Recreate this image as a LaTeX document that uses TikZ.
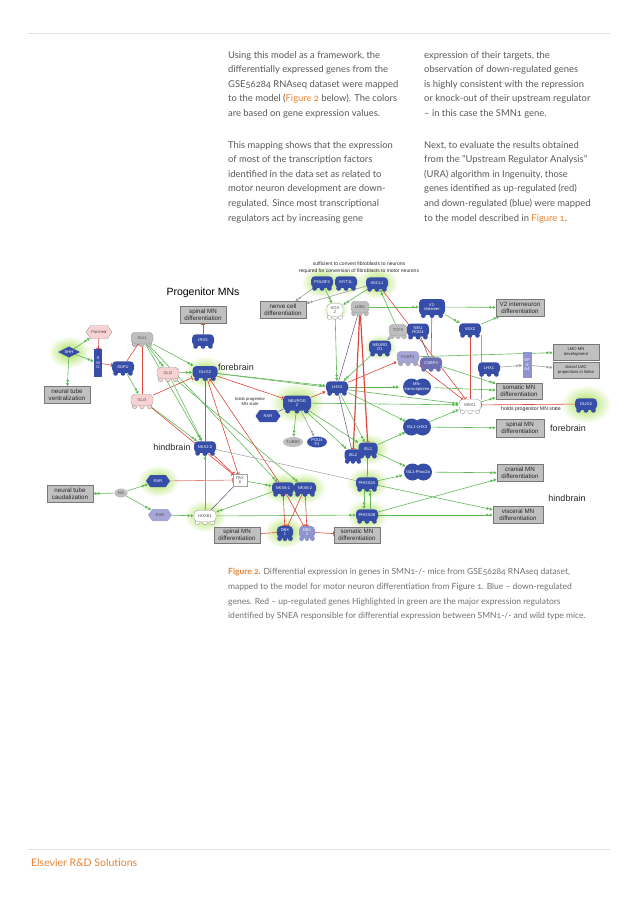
\documentclass[tikz,border=0pt]{standalone}
\usepackage{fontspec}
\setmainfont{Lato}[Numbers=OldStyle]
\newfontfamily\dfont{Liberation Sans}
\usetikzlibrary{arrows.meta,shapes.geometric,shapes.misc,shapes.symbols,decorations.markings,calc,fadings}
\definecolor{txt}{RGB}{88,88,88}
\definecolor{org}{RGB}{232,130,50}
\definecolor{nblue}{RGB}{55,78,168}
\definecolor{nlav}{RGB}{165,165,215}
\definecolor{npink}{RGB}{248,210,210}
\definecolor{ngray}{RGB}{190,190,190}
\definecolor{bfill}{RGB}{192,192,192}
\definecolor{bdraw}{RGB}{120,120,120}
\definecolor{cgreen}{RGB}{95,185,85}
\definecolor{cred}{RGB}{222,70,60}
\definecolor{cpurp}{RGB}{105,75,125}
\definecolor{cgrayl}{RGB}{160,160,160}
\definecolor{cglow}{RGB}{165,222,80}
\definecolor{rulec}{RGB}{222,222,222}
\definecolor{ncsrp}{RGB}{110,110,180}
\tikzfading[name=glowfade, inner color=transparent!0, outer color=transparent!100]
\pgfdeclarelayer{glow}\pgfdeclarelayer{edges}\pgfdeclarelayer{feet}
\pgfsetlayers{glow,edges,feet,main}
\newcommand\nf{\dfont\fontsize{4.1}{4.5}\selectfont}
% transcription regulator: name, position, label, colour
\newcommand\tfn[5][]{\node[tfb,fill=#5,#1] (#2) at (#3) {#4};
  \begin{pgfonlayer}{feet}
  \foreach \ft in {0.17,0.5,0.83}{\fill[#5] ($(#2.south west)!\ft!(#2.south east)+(0,0.4)$) circle (2.4pt);}
  \end{pgfonlayer}}
\newcommand\tfo[5][]{\node[tfb,fill=#5,draw=cgrayl,line width=0.4pt,text=black!70,#1] (#2) at (#3) {#4};
  \begin{pgfonlayer}{feet}
  \foreach \ft in {0.17,0.5,0.83}{\filldraw[fill=#5,draw=cgrayl,line width=0.4pt] ($(#2.south west)!\ft!(#2.south east)+(0,0.4)$) circle (2.4pt);}
  \end{pgfonlayer}}
\newcommand\cxn[4][]{\node[cxb,#1] (#2) at (#3) {#4};
  \begin{pgfonlayer}{feet}
  \fill[nblue] ($(#2.center)+(-5.5,0)$) circle (8.5pt) ($(#2.center)+(5.5,0)$) circle (8.5pt);
  \end{pgfonlayer}}
\newcommand\glow[2][1]{\begin{pgfonlayer}{glow}
  \fill[cglow, path fading=glowfade] (#2) ellipse ({21pt*#1} and {16pt*#1});
  \end{pgfonlayer}}
\begin{document}
\begin{tikzpicture}[x=1pt,y=-1pt,
  body/.style={font=\fontsize{9.4}{14.6}\selectfont, text=txt, align=left, inner sep=0, anchor=north west},
  capt/.style={font=\fontsize{8.5}{14.8}\selectfont, text=txt!85, align=left, inner sep=0, anchor=north west},
  tfb/.style={rectangle, rounded corners=4pt, minimum width=22pt, minimum height=11.5pt, inner sep=0.5pt, font=\nf, align=center, text=white},
  cxb/.style={ellipse, minimum width=30pt, minimum height=16pt, inner sep=0, font=\nf, align=center, text=white},
  box/.style={rectangle, fill=bfill, draw=bdraw, line width=0.5pt, inner sep=1pt, font=\dfont\fontsize{6.2}{6.8}\selectfont, align=center, text=black!85, minimum height=17pt, minimum width=46pt},
  sbox/.style={box, font=\dfont\fontsize{4.2}{5}\selectfont, minimum height=16pt},
  hexs/.style={signal, signal to=west and east, signal pointer angle=110, minimum width=24pt, minimum height=12pt, inner sep=0.5pt, font=\nf, align=center},
  lab/.style={font=\dfont\fontsize{9}{10}\selectfont, text=black!85, inner sep=0},
  slab/.style={font=\dfont\fontsize{5.2}{6}\selectfont, text=black!85, inner sep=0, align=center},
  act/.style={draw=cgreen, line width=0.6pt, -{Latex[length=3pt,width=3.5pt]}, postaction={decorate},
    decoration={markings, mark=at position -5.5pt with {\fill[cgreen] (0,0) circle (1.4pt);}}},
  gact/.style={draw=cgrayl, line width=0.6pt, -{Latex[length=3pt,width=3.5pt]}, postaction={decorate},
    decoration={markings, mark=at position -5.5pt with {\fill[cgrayl] (0,0) circle (1.3pt);}}},
  inh/.style={draw=cred, line width=0.6pt, -{Bar[width=4.5pt,line width=0.8pt]}},
  ract/.style={draw=cred, line width=0.6pt, -{Latex[length=3pt,width=3.5pt]}},
  pline/.style={draw=cpurp, line width=0.5pt},
  gline/.style={draw=cgrayl, line width=0.5pt}
]
\useasboundingbox (0,0) rectangle (638,902);
\draw[rulec, line width=0.6pt] (28,33) -- (610,33);
\draw[rulec, line width=0.6pt] (28,849) -- (610,849);

% ---------- body text ----------
\node[body] (p1) at (228,51) {Using this model as a framework, the\\differentially expressed genes from the\\GSE56284 RNAseq dataset were mapped\\to the model ({\color{org}Figure 2} below). The colors\\are based on gene expression values.};
\node[body] (p2) at (228,141) {This mapping shows that the expression\\of most of the transcription factors\\identified in the data set as related to\\motor neuron development are down-\\regulated. Since most transcriptional\\regulators act by increasing gene};
\node[body] (p3) at (424,51) {expression of their targets, the\\observation of down-regulated genes\\is highly consistent with the repression\\or knock-out of their upstream regulator\\-- in this case the SMN1 gene.};
\node[body] (p4) at (424,141) {Next, to evaluate the results obtained\\from the "Upstream Regulator Analysis"\\(URA) algorithm in Ingenuity, those\\genes identified as up-regulated (red)\\and down-regulated (blue) were mapped\\to the model described in {\color{org}Figure 1}.};
\node[capt] (cap) at (228,568) {{\color{org}\bfseries Figure 2.} Differential expression in genes in SMN1-/- mice from GSE56284 RNAseq dataset,\\mapped to the model for motor neuron differentiation from Figure 1. Blue -- down-regulated\\genes. Red -- up-regulated genes Highlighted in green are the major expression regulators\\identified by SNEA responsible for differential expression between SMN1-/- and wild type mice.};
\node[anchor=base west, font=\fontsize{10.5}{12}\selectfont, text=org, inner sep=0] (foot) at (31,866) {Elsevier R\&D Solutions};

% ---------- diagram labels ----------
\node[font=\dfont\fontsize{10.5}{12}\selectfont, inner sep=0] (prog) at (203,293) {Progenitor MNs};
\node[slab, font=\dfont\fontsize{5}{6.6}\selectfont] (suff) at (359,268) {sufficient to convert fibroblasts to neurons\\required for conversion of fibroblasts to motor neurons};
\node[lab] (fb1) at (236,367) {forebrain};
\node[lab] (hb1) at (172,447) {hindbrain};
\node[lab] (fb2) at (568,428) {forebrain};
\node[lab] (hb2) at (567,498) {hindbrain};
\node[slab] (hold2) at (531,409) {holds progenitor MN state};
\node[slab, font=\dfont\fontsize{4.2}{5}\selectfont] (hold1) at (250,401) {holds progenitor\\MN state};

% ---------- boxes ----------
\node[box] (NTV) at (67,395) {neural tube\\ventralization};
\node[box] (SMD1) at (203,315) {spinal MN\\differentiation};
\node[box] (NCD) at (283,310) {nerve cell\\differentiation};
\node[box, minimum width=48pt] (V2ID) at (520,307.5) {V2 interneuron\\differentiation};
\node[sbox] (LMCD) at (576,352) {LMC-MN\\development};
\node[sbox] (DLMC) at (576,370) {dorsal LMC\\projections in limbs};
\node[box, minimum height=16pt] (SMD2) at (519,391) {somatic MN\\differentiation};
\node[box, minimum height=18pt, minimum width=48pt] (SMD3) at (520,428) {spinal MN\\differentiation};
\node[box] (CMD) at (520,473) {cranial MN\\differentiation};
\node[box, minimum width=50pt] (VMD) at (518,515) {visceral MN\\differentiation};
\node[box] (NTC) at (70,494) {neural tube\\caudalization};
\node[box, minimum height=16pt] (SMD4) at (237,535) {spinal MN\\differentiation};
\node[box, minimum height=16pt] (SMD5) at (357,535) {somatic MN\\differentiation};

% ---------- molecules ----------
\node[diamond, aspect=2, minimum width=22pt, minimum height=11pt, inner sep=0, fill=nblue, font=\nf, text=white] (SHH) at (69,352) {SHH};
\node[hexs, fill=npink, draw=cgrayl, line width=0.4pt, text=black!70, minimum width=26pt, minimum height=13pt] (PTC) at (99,332) {Patched};
\node[rectangle, fill=nblue, minimum width=8pt, minimum height=28pt, inner sep=0, font=\nf, text=white, align=center] (SMO) at (98,363) {S\\M\\O};
\tfn{SUFU}{123,367}{SUFU}{nblue}
\tfo{GLI1}{142,338}{GLI1}{ngray}
\tfo{GLI2}{168,373}{GLI2}{npink}
\tfo{GLI3}{142,400}{GLI3}{npink}
\tfn{IRX3}{203,340}{IRX3}{nblue}
\tfn[minimum width=25pt, minimum height=12pt]{OLIG2}{205,372}{OLIG2}{nblue}
\tfn{POU3F2}{322,282}{POU3F2}{nblue}
\tfn{MYT1L}{346,282}{MYT1L}{nblue}
\tfn{ASCL1}{377,283}{ASCL1}{nblue}
\tfo[minimum width=16pt, minimum height=13pt]{SOX2}{335,310}{SOX\\2}{white}
\tfo[minimum width=18pt]{LDB1}{360,307}{LDB1}{ngray}
\tfo[minimum width=18pt]{TCF3}{398,330}{TCF3}{ngray}
\tfn[minimum height=13pt]{NEUROD1}{380,347}{NEURO\\D1}{nblue}
\tfo{FOXP1}{408,357}{FOXP1}{nlav}
\tfn{LHX3}{337,387}{LHX3}{nblue}
\tfn[minimum width=28pt, minimum height=15pt]{NEUROG2}{297,403}{NEUROG\\2}{nblue}
\tfn[minimum width=26pt, minimum height=16pt]{V2T}{432,307}{V2-\\tetramer}{nblue}
\tfn[minimum height=13pt]{NEUROD4}{418,330}{NEU\\ROD4}{nblue}
\tfn{VSX2}{470,329}{VSX2}{nblue}
\tfn[text=white]{CSRP}{431,363}{CSRP3}{ncsrp}
\tfn{LHX1}{489,368}{LHX1}{nblue}
\node[rectangle, fill=nlav!80!nblue, minimum width=9pt, minimum height=26pt, inner sep=0, font=\nf, text=white, align=center] (EPHA4) at (527,365) {EP\\H\\A4};
\tfo{MNX1}{470,405}{MNX1}{white}
\tfn{OLIG2R}{586,404}{OLIG2}{nblue}
\cxn{MNT}{417,387}{MN-\\transcriptome}
\cxn{IL3}{417,427}{ISL1-LHX3}
\cxn{IP2}{418,472}{ISL1-Phox2a}
\tfn{NKX22}{205,447}{NKX2-2}{nblue}
\node[hexs, fill=nblue, text=white] (RAR1) at (158,481) {RAR};
\node[ellipse, fill=ngray, minimum width=13pt, minimum height=9pt, inner sep=0, font=\nf, text=black!70] (RA) at (121,493) {RA};
\node[hexs, fill=nlav, text=black!70] (RXR) at (160,515) {RXR};
\tfo{HOXB1}{205,516}{HOXB1}{white}
\node[hexs, fill=nblue, text=white, minimum width=25pt] (RAR2) at (268,416) {RAR};
\node[ellipse, fill=ngray, minimum width=20pt, minimum height=10pt, inner sep=0, font=\nf, text=black!70] (TUBB3) at (293,442) {TUBB3};
\node[ellipse, fill=nblue, minimum width=20pt, minimum height=11pt, inner sep=0, font=\nf, text=white, align=center] (POU4F1) at (317,442) {POU4\\F1};
\tfn[minimum width=17pt]{ISL2}{353,455}{ISL2}{nblue}
\tfn[minimum width=19pt, minimum height=13pt]{ISL1}{368,449}{ISL1}{nblue}
\node[rectangle, fill=white, draw=cgrayl, line width=0.4pt, minimum width=14pt, minimum height=12pt, inner sep=0, font=\nf, text=black!70, align=center] (PAX6) at (240,480) {PAX\\6};
\tfn{NKX61}{283,488}{NKX6-1}{nblue}
\tfn{NKX62}{305,488}{NKX6-2}{nblue}
\tfn{PHOX2A}{367,483}{PHOX2A}{nblue}
\tfn{PHOX2B}{367,515}{PHOX2B}{nblue}
\tfn[minimum width=16pt, minimum height=12pt]{DBX1}{285,532}{DBX\\1}{nblue}
\tfn[minimum width=16pt, minimum height=12pt]{DBX2}{307,532}{DBX\\2}{nlav!80!nblue}

% ---------- glows ----------
\glow{SHH}\glow{OLIG2}\glow{POU3F2}\glow[0.8]{MYT1L}\glow{ASCL1}\glow[0.8]{NEUROD1}
\glow[1.3]{NEUROG2}\glow{ISL1}\glow{HOXB1}\glow{RAR1}\glow{NKX61}\glow{NKX62}
\glow{PHOX2A}\glow{PHOX2B}\glow{DBX1}\glow[1.2]{OLIG2R}\glow[0.6]{SOX2}

% ---------- connectors ----------
\begin{pgfonlayer}{edges}
\draw[act] (SHH) -- (PTC);
\draw[act] (SHH) -- (SMO);
\draw[act] (SHH) -- (NTV);
\draw[inh] (PTC) -- (SMO);
\draw[inh] (SMO) -- (SUFU);
\draw[inh] (SUFU) -- (GLI1);
\draw[act] (SUFU) -- (GLI3);
\draw[inh] (GLI3) -- (GLI1);
\draw[act] (GLI1) -- (GLI2);
\draw[act] (GLI1) -- (OLIG2);
\draw[act] (GLI2) -- (OLIG2);
\draw[inh] (GLI3) -- (OLIG2);
\draw[act] (GLI1) -- (NKX22);
\draw[act] (GLI2) -- (NKX22);
\draw[act] (GLI3) -- (NKX22);
\draw[act] (GLI1) -- (NKX61);
\draw[act] (GLI2) -- (NKX62);
\draw[inh] (GLI3) -- (PAX6);
\draw[inh] (IRX3) -- (SMD1);
\draw[act] (OLIG2) -- (LHX3);
\draw[inh] (OLIG2) -- (NEUROG2);
\draw[act] (OLIG2) -- (MNX1);
\draw[inh] (NKX22) -- (OLIG2);
\draw[inh] (OLIG2) -- (PAX6);
\draw[ract] (NKX61) -- (OLIG2);
\draw[ract] (NEUROG2) -- (LHX3);
\draw[ract] (LHX3) -- (FOXP1);
\draw[act] (LHX3) -- (MNT);
\draw[act] (LHX3) -- (IL3);
\draw[act] (SOX2) -- (LHX3);
\draw[act] (POU3F2) -- (SOX2);
\draw[act] (ASCL1) -- (SOX2);
\draw[gact] (POU3F2) -- (NCD);
\draw[gact] (ASCL1) -- (NCD);
\draw[act] (TCF3) -- (ASCL1);
\draw[act] (LDB1) -- (V2T);
\draw[inh, line width=1.2pt] (LDB1) -- (ISL1);
\draw[inh, line width=1.2pt] (LDB1) -- (ISL2);
\draw[pline] (LDB1) -- (LHX3);
\draw[inh] (ASCL1) -- (MNX1);
\draw[act] (V2T) -- (V2ID);
\draw[act] (VSX2) -- (V2ID);
\draw[act] (V2T) -- (VSX2);
\draw[draw=cred, line width=0.6pt] (V2T) -- (CSRP);
\draw[gact] (TCF3) -- (NEUROD1);
\draw[inh] (MNX1) -- (VSX2);
\draw[gline] (MNX1.north east) -- (VSX2.south east);
\draw[inh] (FOXP1) -- (MNX1);
\draw[gact] (LHX1) -- (EPHA4);
\draw[gact] (EPHA4) -- (DLMC);
\draw[act] (FOXP1) -- (LMCD);
\draw[act] (MNT) -- (SMD2);
\draw[act] (MNX1) -- (SMD2);
\draw[act] (CSRP) -- (SMD2);
\draw[inh] (OLIG2R) -- (MNX1);
\draw[act] (IL3) -- (MNX1);
\draw[act] (IL3) -- (SMD3);
\draw[act] (ISL1) -- (IL3);
\draw[act] (ISL1) -- (IP2);
\draw[act] (IP2) -- (CMD);
\draw[act] (PHOX2A) -- (IP2);
\draw[act] ([xshift=-3pt]PHOX2A.south) -- ([xshift=-3pt]PHOX2B.north);
\draw[act] ([xshift=3pt]PHOX2B.north) -- ([xshift=3pt]PHOX2A.south);
\draw[act] (PHOX2B) -- (VMD);
\draw[act] (PHOX2A) -- (VMD);
\draw[act] (PHOX2B) -- (CMD);
\draw[act] (HOXB1) -- (PHOX2B);
\draw[act] (HOXB1) -- (NKX22);
\draw[act] (RA) -- (RAR1);
\draw[act] (RA) -- (RXR);
\draw[act] (RA) -- (NTC);
\draw[inh, draw=cred!70] (RAR1) -- (PAX6);
\draw[act] (RXR) -- (HOXB1);
\draw[inh] (NKX61) -- (DBX1);
\draw[inh] (NKX61) -- (DBX2);
\draw[inh] (NKX62) -- (DBX1);
\draw[inh] (NKX62) -- (DBX2);
\draw[inh] (DBX1) -- (SMD4);
\draw[inh] (DBX2) -- (SMD5);
\draw[act] (NKX61) -- (HOXB1);
\draw[act] (PAX6) -- (NKX61);
\draw[inh] (NKX22) -- (PAX6);
\draw[act] (NEUROG2) -- (TUBB3);
\draw[gact] (NEUROG2) -- (POU4F1);
\draw[act] (NEUROG2) -- (ISL1);
\draw[act] (NEUROG2) -- (ISL2);
\draw[act] (NEUROG2) -- (MNX1);
\draw[gline] (NKX22) -- (PHOX2A);
\draw[pline] (ISL1) -- (PHOX2A);
\draw[act] (NEUROD1) -- (LHX3);
\draw[pline] (LHX3) -- (ISL2);
\draw[act] (LHX3) -- (ISL1);
\draw[pline] (HOXB1) -- (PAX6);
\draw[pline] (NEUROD4) -- (CSRP);
\draw[pline] (NEUROG2) -- (RAR2);
\end{pgfonlayer}
\end{tikzpicture}
\end{document}
